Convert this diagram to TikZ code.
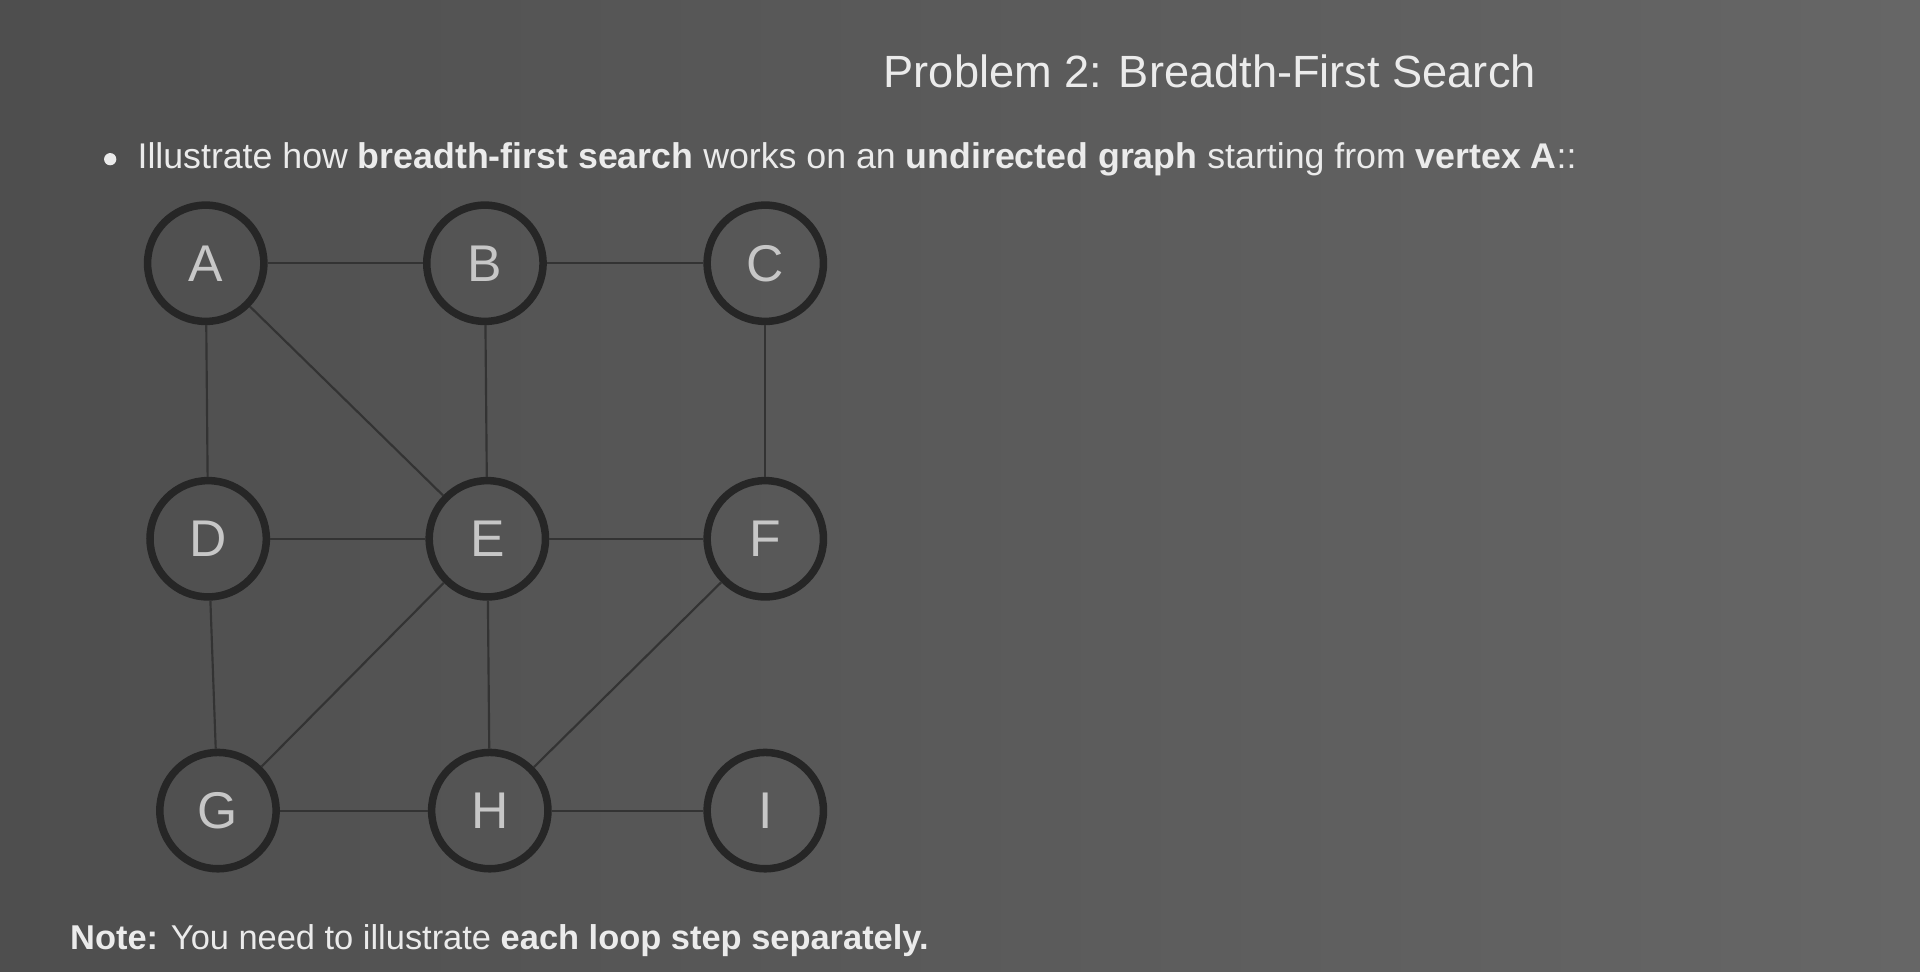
\documentclass[tikz,border=0pt]{standalone}
\usepackage{fontspec}
\setmainfont{Liberation Sans}
\begin{document}
\begin{tikzpicture}[x=0.02cm,y=-0.02cm,
  vtx/.style={circle,draw=black!85,line width=3.5pt,minimum size=1.9cm,inner sep=0pt,font=\fontsize{24}{24}\selectfont,text=white!78!black},
  edge/.style={draw=black!80,line width=1pt},
  txt/.style={text=white!92!black,font=\fontsize{16.6}{20}\selectfont,inner sep=0pt}]
\shade[left color={rgb,255:red,78;green,78;blue,78},right color={rgb,255:red,102;green,102;blue,102}] (0,0) rectangle (1568,793);
\useasboundingbox (0,0) rectangle (1568,793);
\node[txt,font=\fontsize{21}{24}\selectfont] (title) at (988,58) {Problem 2: Breadth-First Search};
\node[txt,anchor=west] (bul) at (112,130) {Illustrate how \textbf{breadth-first search} works on an \textbf{undirected graph} starting from \textbf{vertex} $\mathbf{A}$::};
\fill[white!92!black] (90,130) circle (5);
\node[txt,anchor=west,font=\fontsize{16}{20}\selectfont] (note) at (57,768) {\textbf{Note:} You need to illustrate \textbf{each loop step separately.}};
\node[vtx] (A) at (168,215) {A};
\node[vtx] (B) at (396,215) {B};
\node[vtx] (C) at (625,215) {C};
\node[vtx] (D) at (170,440) {D};
\node[vtx] (E) at (398,440) {E};
\node[vtx] (F) at (625,440) {F};
\node[vtx] (G) at (178,662) {G};
\node[vtx] (H) at (400,662) {H};
\node[vtx] (I) at (625,662) {I};
\foreach \a/\b in {A/B,B/C,A/D,A/E,B/E,C/F,D/E,E/F,D/G,E/H,E/G,F/H,G/H,H/I}
  \draw[edge] (\a) -- (\b);
\end{tikzpicture}
\end{document}
